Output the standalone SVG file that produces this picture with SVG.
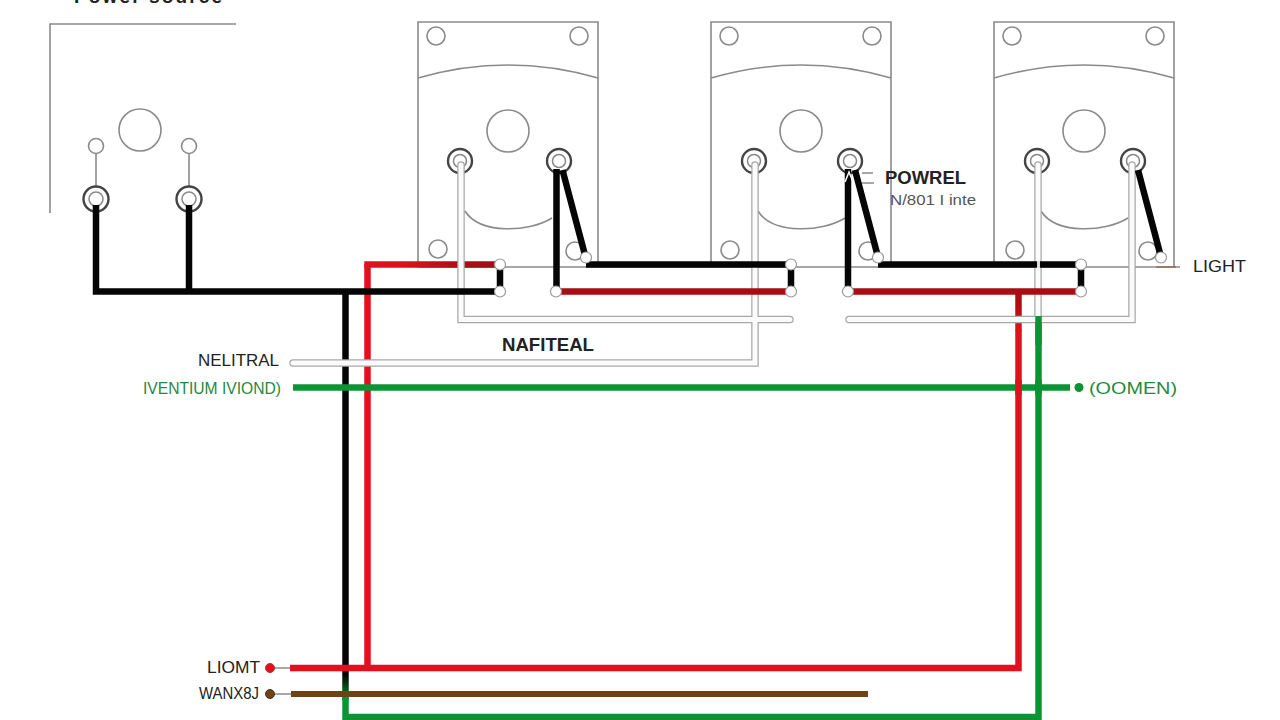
<svg xmlns="http://www.w3.org/2000/svg" width="1280" height="720" viewBox="0 0 1280 720">
<defs>
<linearGradient id="kg" gradientUnits="userSpaceOnUse" x1="0" y1="675" x2="0" y2="700"><stop offset="0" stop-color="#050505"/><stop offset="1" stop-color="#0a9434"/></linearGradient>
<linearGradient id="rd" gradientUnits="userSpaceOnUse" x1="400" y1="0" x2="470" y2="0"><stop offset="0" stop-color="#e2101c"/><stop offset="1" stop-color="#a80d14"/></linearGradient>
<linearGradient id="rv" gradientUnits="userSpaceOnUse" x1="0" y1="300" x2="0" y2="330"><stop offset="0" stop-color="#a80d14"/><stop offset="1" stop-color="#e2101c"/></linearGradient>
</defs>
<style>
.p{fill:none;stroke:#8a8a8a;stroke-width:1.6}
.s{fill:#fff;stroke:#8a8a8a;stroke-width:1.6}
.ring{fill:#fff;stroke:#444;stroke-width:2.4}
.ri{fill:#fff;stroke:#888;stroke-width:1.5}
.w{fill:none;stroke-linejoin:miter;stroke-linecap:butt;stroke-width:6.500}
.k{stroke:#050505}
.r{stroke:#e2101c}
.d{stroke:#a80d14}
.g{stroke:#0a9434}
.b{stroke:#6e4414;stroke-width:6}
.no{stroke:#a8a8a8;stroke-width:7.500;fill:none}
.ni{stroke:#fbfbfb;stroke-width:5;fill:none}
.n{fill:#fff;stroke:#999;stroke-width:1.2}
text{font-family:"Liberation Sans",Arial,sans-serif;fill:#222}
</style>
<g id="power-source">
<path class="p" d="M236 24H50V213"/>
<circle class="s" cx="140" cy="130" r="21"/>
<path class="p" d="M96 153V187M189 153V187"/>
<circle class="s" cx="96" cy="146" r="7.500"/>
<circle class="s" cx="189" cy="146" r="7.500"/>
<circle class="ring" cx="96" cy="199" r="12.500"/><circle class="ri" cx="96" cy="199" r="7"/>
<circle class="ring" cx="189" cy="199" r="12.500"/><circle class="ri" cx="189" cy="199" r="7"/>
<text x="74" y="3" font-size="19" font-weight="700" textLength="148">Power source</text>
</g>
<g id="switch-1">
<path class="p" d="M418 267V22H598V267M418 78Q508 52 598 78M465 211C480 235 530 232 552 218"/>
<circle class="s" cx="508" cy="131" r="21"/>
<circle class="s" cx="436" cy="36" r="9"/><circle class="s" cx="579" cy="36" r="9"/><circle class="s" cx="438" cy="249" r="9"/><circle class="s" cx="575" cy="251" r="9"/>
<circle class="ring" cx="460" cy="161" r="12"/><circle class="ri" cx="460" cy="161" r="6.500"/>
<circle class="ring" cx="559" cy="161" r="12"/><circle class="ri" cx="559" cy="161" r="6.500"/>
</g>
<g id="switch-2">
<path class="p" d="M711 267V22H891V267M711 78Q801 52 891 78M758 211C773 235 823 232 845 218"/>
<circle class="s" cx="801" cy="131" r="21"/>
<circle class="s" cx="729" cy="36" r="9"/><circle class="s" cx="872" cy="36" r="9"/><circle class="s" cx="730" cy="250" r="9"/><circle class="s" cx="868" cy="251" r="9"/>
<circle class="ring" cx="754" cy="161" r="12"/><circle class="ri" cx="754" cy="161" r="6.500"/>
<circle class="ring" cx="850" cy="161" r="12"/><circle class="ri" cx="850" cy="161" r="6.500"/>
</g>
<g id="switch-3">
<path class="p" d="M994 267V22H1174V267M994 78Q1084 52 1174 78M1041 211C1056 235 1106 232 1128 218"/>
<circle class="s" cx="1084" cy="131" r="21"/>
<circle class="s" cx="1012" cy="36" r="9"/><circle class="s" cx="1155" cy="36" r="9"/><circle class="s" cx="1015" cy="250" r="9"/><circle class="s" cx="1148" cy="251" r="9"/>
<circle class="ring" cx="1037" cy="161" r="12"/><circle class="ri" cx="1037" cy="161" r="6.500"/>
<circle class="ring" cx="1133" cy="161" r="12"/><circle class="ri" cx="1133" cy="161" r="6.500"/>
</g>
<g id="connectors">
<path class="p" d="M418 267H1180"/>
<path class="w" stroke="url(#kg)" d="M345.500 291V700"/>
<path class="w g" d="M345.500 697V717H1038.500V316"/>
<path class="w r" d="M367.500 264.500V667"/>
<path class="w" stroke="url(#rd)" d="M497 264.500H364.300"/>
<path class="w r" d="M290 668H1018.500V330" stroke-linecap="round"/>
<path class="w" stroke="url(#rv)" d="M1018.500 331V291"/>
<path class="no" d="M293 363H755V165" stroke-linecap="round"/>
<path class="no" d="M461 165V319.500H790" stroke-linecap="round"/>
<path class="no" d="M1038 165V319.500M849 319.500H1132V165" stroke-linecap="round"/>
<path class="ni" d="M293 363H755V165" stroke-linecap="round"/>
<path class="ni" d="M461 165V319.500H790" stroke-linecap="round"/>
<path class="ni" d="M1038 165V319.500M849 319.500H1132V165" stroke-linecap="round"/>
<path class="w g" d="M1038.500 316V345"/>
<path class="w g" d="M293 387.500H1070" stroke-linecap="round"/>
<path class="w g" d="M1038.500 380V395"/>
<path class="w r" d="M1018.500 380V395"/>
<path class="p" d="M275 668H290M275 694H291"/>
<path class="w b" d="M291 694H868" stroke-linecap="round"/>
<path class="w k" d="M96 205V291.500H497M189 205V291.500"/>
<path class="w k" d="M500 264V291M791 264V291M1081 264V291"/>
<path class="w d" d="M556 291.500H791M848 291.500H1081"/>
<path class="w k" d="M586 264.500H791M878 264.500H1081"/>
<path class="w k" d="M556.500 169V291M562.500 170L585.500 257M848 169V291M855 170L878 257M1138 170L1161 257"/>
<path d="M1038.500 261V268" stroke="#ddd" stroke-width="3" fill="none"/>
<path d="M862 173H873M862 183H874" class="p"/>
<path d="M845 182L849 172L853 182" stroke="#fff" stroke-width="1.500" fill="none"/>
<path d="M1156 267H1176" stroke="#a06a50" stroke-width="1.500" fill="none"/>
</g>
<g id="junctions">
<circle class="n" cx="500" cy="264.500" r="5.500"/><circle class="n" cx="500" cy="291.500" r="5.500"/>
<circle class="n" cx="556" cy="291.500" r="5.500"/><circle class="n" cx="586" cy="257.500" r="5.500"/>
<circle class="n" cx="791" cy="264.500" r="5.500"/><circle class="n" cx="791" cy="291.500" r="5.500"/>
<circle class="n" cx="848" cy="291.500" r="5.500"/><circle class="n" cx="878" cy="257.500" r="5.500"/>
<circle class="n" cx="1081" cy="264.500" r="5.500"/><circle class="n" cx="1081" cy="291.500" r="5.500"/>
<circle class="n" cx="1161" cy="257.500" r="5.500"/>
<circle cx="1079" cy="387.500" r="4.500" fill="#0a9434"/>
<circle cx="270" cy="668" r="4.500" fill="#e2101c" stroke="#a33" stroke-width="1"/>
<circle cx="270" cy="694" r="4.500" fill="#6e4414" stroke="#432" stroke-width="1"/>
</g>
<g id="labels">
<text x="885" y="184" font-size="18" textLength="81" font-weight="700" lengthAdjust="spacingAndGlyphs">POWREL</text>
<text x="890" y="205" font-size="14" style="fill:#555" textLength="86" lengthAdjust="spacingAndGlyphs">N/801 I inte</text>
<text x="1193" y="272" font-size="16" textLength="53" lengthAdjust="spacingAndGlyphs">LIGHT</text>
<text x="502" y="351" font-size="18" font-weight="700" textLength="92" lengthAdjust="spacingAndGlyphs">NAFITEAL</text>
<text x="198" y="366" font-size="16" textLength="81" lengthAdjust="spacingAndGlyphs">NELITRAL</text>
<text x="143" y="394" font-size="16" style="fill:#1f8a40" textLength="138" lengthAdjust="spacingAndGlyphs">IVENTIUM IVIOND)</text>
<text x="1089" y="394" font-size="17" style="fill:#1f8a40" textLength="88" lengthAdjust="spacingAndGlyphs">(OOMEN)</text>
<text x="207" y="673" font-size="16" textLength="53" lengthAdjust="spacingAndGlyphs">LIOMT</text>
<text x="199" y="699" font-size="16" textLength="60" lengthAdjust="spacingAndGlyphs">WANX8J</text>
</g>
</svg>
